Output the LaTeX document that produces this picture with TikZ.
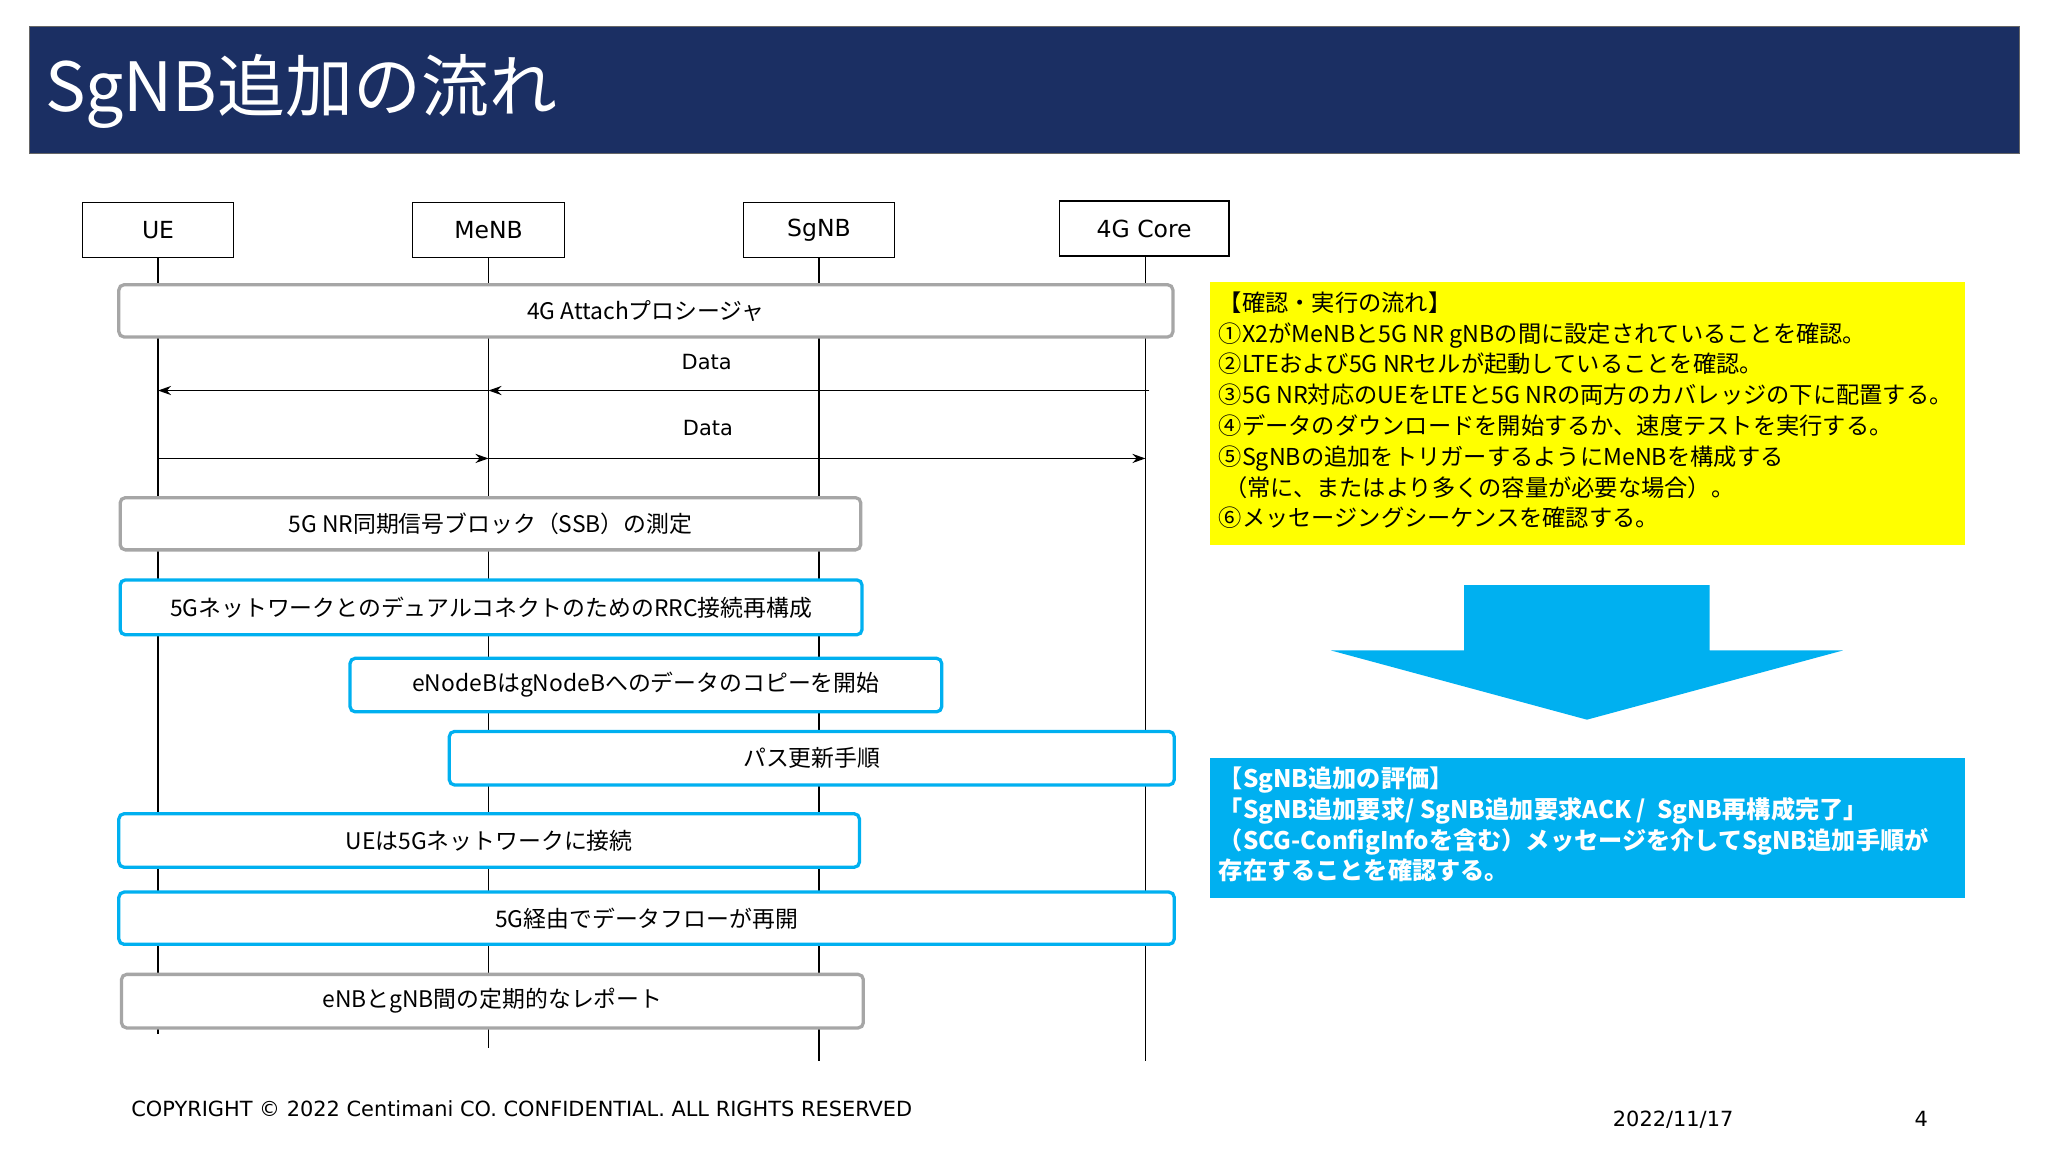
\documentclass[tikz,border=0pt]{standalone}
\usepackage{fontspec}
\setmainfont{Noto Sans CJK JP}
\newfontfamily\lat{DejaVu Sans}
\usetikzlibrary{arrows.meta}
\definecolor{navy}{HTML}{1B2F63}
\definecolor{cyanb}{HTML}{00B0F0}
\definecolor{grayb}{HTML}{A6A6A6}
\definecolor{yel}{HTML}{FFFF00}
\tikzset{
 actor/.style={draw=black,line width=1pt,minimum width=116pt,minimum height=42pt,font=\lat\fontsize{18}{20}\selectfont},
 grbar/.style={draw=grayb,line width=2.5pt,rounded corners=4pt,fill=white,font=\fontsize{17.5}{18}\selectfont},
 cybar/.style={draw=cyanb,line width=2.5pt,rounded corners=4pt,fill=white,font=\fontsize{17.5}{18}\selectfont},
 life/.style={line width=1pt},
 msg/.style={line width=1pt,-{Stealth[length=10pt,width=7pt]}},
}
\begin{document}
\begin{tikzpicture}[x=1pt,y=-1pt]
\useasboundingbox (0,0) rectangle (1568,882);
\fill[white] (0,0) rectangle (1568,882);
% title
\node[draw=black!60,fill=navy,minimum width=1524pt,minimum height=97pt,anchor=north west,inner sep=0] (title) at (22,20) {};
\node[anchor=west,text=white,font=\fontsize{52}{54}\selectfont] (ttext) at (31,70) {SgNB追加の流れ};
% actors
\node[actor] (ue) at (121,176) {UE};
\node[actor] (menb) at (374,176) {MeNB};
\node[actor] (sgnb) at (627,176) {SgNB};
\node[actor,minimum width=130pt] (core) at (876,175) {4G Core};
\coordinate (ueE) at (121,792);
\coordinate (menbE) at (374,802);
\coordinate (sgnbE) at (627,812);
\coordinate (coreE) at (877,812);
\draw[life] (ue.south) -- (ueE);
\draw[life] (menb.south) -- (menbE);
\draw[life] (sgnb.south) -- (sgnbE);
\draw[life] (core.south-|coreE) -- (coreE);
% data arrows
\coordinate (a1s) at (880,299); \coordinate (a1m) at (374,299); \coordinate (a1u) at (121,299);
\draw[msg] (a1s) -- (a1m);
\draw[msg] (a1m) -- (a1u);
\node[fill=white,font=\lat\fontsize{16}{18}\selectfont] (d1) at (541,277) {Data};
\coordinate (a2u) at (121,351); \coordinate (a2m) at (374,351); \coordinate (a2c) at (877,351);
\draw[msg] (a2u) -- (a2m);
\draw[msg] (a2m) -- (a2c);
\node[fill=white,font=\lat\fontsize{16}{18}\selectfont] (d2) at (542,328) {Data};
% bars
\node[grbar,minimum width=807pt,minimum height=40pt] (b1) at (494.5,238) {4G Attachプロシージャ};
\node[grbar,minimum width=567pt,minimum height=40pt] (b2) at (375.5,401) {5G NR同期信号ブロック（SSB）の測定};
\node[cybar,minimum width=568pt,minimum height=42pt] (b3) at (376,465) {5GネットワークとのデュアルコネクトのためのRRC接続再構成};
\node[cybar,minimum width=453pt,minimum height=41pt] (b4) at (494.5,524.5) {eNodeBはgNodeBへのデータのコピーを開始};
\node[cybar,minimum width=555pt,minimum height=41pt] (b5) at (621.5,580.5) {パス更新手順};
\node[cybar,minimum width=567pt,minimum height=41pt] (b6) at (374.5,643.5) {UEは5Gネットワークに接続};
\node[cybar,minimum width=808pt,minimum height=40pt] (b7) at (495,703) {5G経由でデータフローが再開};
\node[grbar,minimum width=568pt,minimum height=41pt] (b8) at (377,766.5) {eNBとgNB間の定期的なレポート};
% yellow box
\node[fill=yel,minimum width=578pt,minimum height=201pt,anchor=north west,inner sep=0] (ybox) at (926,216) {};
\node[anchor=north west,align=left,font=\fontsize{17.8}{23.6}\selectfont,inner sep=0] (ytext) at (933,223) {%
【確認・実行の流れ】\\
①X2がMeNBと5G NR gNBの間に設定されていることを確認。\\
②LTEおよび5G NRセルが起動していることを確認。\\
③5G NR対応のUEをLTEと5G NRの両方のカバレッジの下に配置する。\\
④データのダウンロードを開始するか、速度テストを実行する。\\
⑤SgNBの追加をトリガーするようにMeNBを構成する\\
\hspace*{4pt}（常に、またはより多くの容量が必要な場合）。\\
⑥メッセージングシーケンスを確認する。};
% big arrow
\fill[cyanb] (1121,448) -- (1309,448) -- (1309,498) -- (1411,498) -- (1215,551) -- (1019,498) -- (1121,498) -- cycle;
% blue box
\node[fill=cyanb,minimum width=578pt,minimum height=107pt,anchor=north west,inner sep=0] (bbox) at (926,580) {};
\node[anchor=north west,align=left,text=white,font=\bfseries\fontsize{18.5}{23.5}\selectfont,inner sep=0] (btext) at (933,587) {%
【SgNB追加の評価】\\
「SgNB追加要求/ SgNB追加要求ACK /\ \ SgNB再構成完了」\\
（SCG-ConfigInfoを含む）メッセージを介してSgNB追加手順が\\
存在することを確認する。};
% footer
\node[anchor=west,font=\lat\fontsize{16}{18}\selectfont] (copy) at (97,849) {COPYRIGHT © 2022 Centimani CO. CONFIDENTIAL. ALL RIGHTS RESERVED};
\node[font=\lat\fontsize{16}{18}\selectfont] (date) at (1281,857) {2022/11/17};
\node[font=\lat\fontsize{16}{18}\selectfont] (pg) at (1471,857) {4};
\end{tikzpicture}
\end{document}
